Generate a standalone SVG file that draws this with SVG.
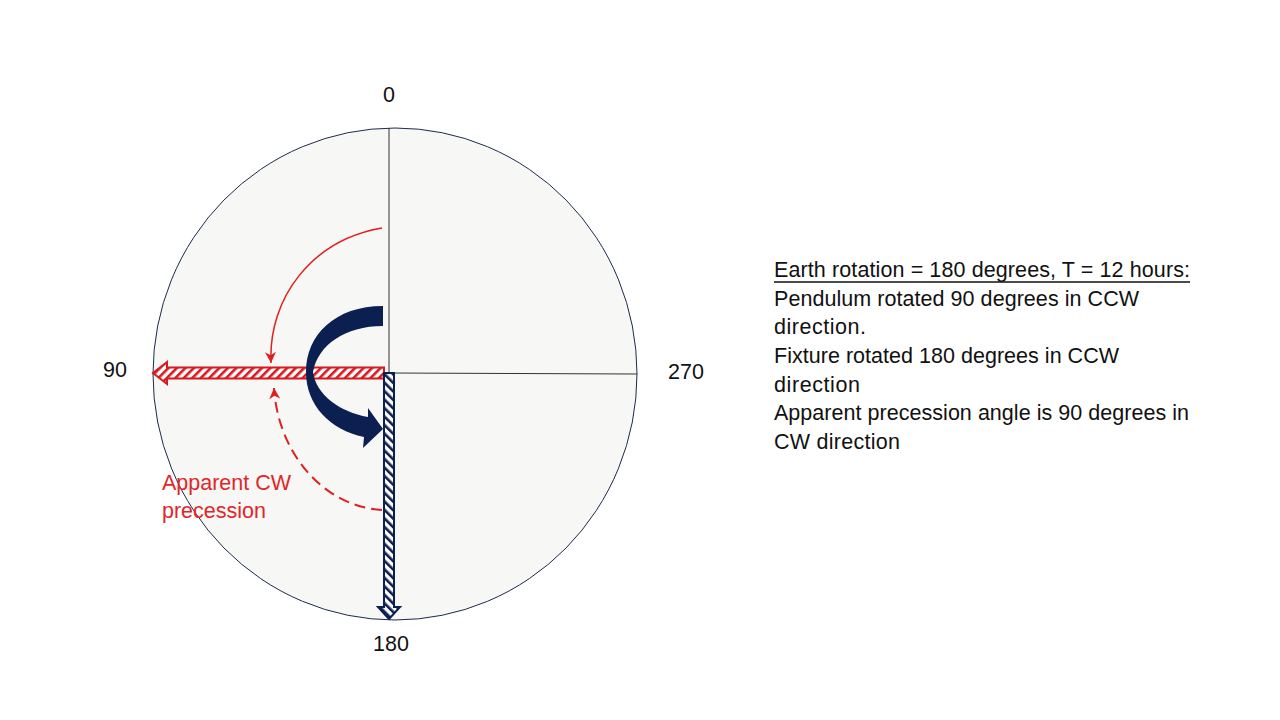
<svg xmlns="http://www.w3.org/2000/svg" width="1280" height="720" viewBox="0 0 1280 720">
<defs>
<pattern id="hatchRed" patternUnits="userSpaceOnUse" width="6" height="6" patternTransform="rotate(45)">
<rect width="6" height="6" fill="#ffffff"/>
<rect width="2.6" height="6" fill="#d7191f"/>
</pattern>
<pattern id="hatchBlue" patternUnits="userSpaceOnUse" width="6" height="6" patternTransform="rotate(-45)">
<rect width="6" height="6" fill="#ffffff"/>
<rect width="2.6" height="6" fill="#0b1f50"/>
</pattern>
<marker id="redHead" viewBox="0 0 10 10" refX="10" refY="5" markerWidth="12" markerHeight="11" orient="auto" markerUnits="userSpaceOnUse">
<path d="M0,0 L10,5 L0,10 L3,5 Z" fill="#e0201f"/>
</marker>
</defs>
<style>
.lbl{font-family:"Liberation Sans",Arial,sans-serif;font-size:21.5px;fill:#111111}
.red{font-family:"Liberation Sans",Arial,sans-serif;font-size:21.5px;fill:#e0262a}
.axis{stroke:#333333;stroke-width:1;fill:none}
</style>
<rect width="1280" height="720" fill="#ffffff"/>
<g id="dial">
<ellipse cx="395" cy="374" rx="242" ry="246" fill="#f7f7f5" stroke="#1d2a4a" stroke-width="1"/>
<line class="axis" x1="389" y1="128" x2="389" y2="373"/>
<line class="axis" x1="389" y1="373" x2="637" y2="374"/>
</g>
<g id="labels">
<text class="lbl" x="389" y="102" text-anchor="middle">0</text>
<text class="lbl" x="115" y="377" text-anchor="middle">90</text>
<text class="lbl" x="686" y="379" text-anchor="middle">270</text>
<text class="lbl" x="391" y="651" text-anchor="middle">180</text>
</g>
<g id="pendulum-arrow">
<path d="M384 367.5 L167 367.5 L167 362 L153 373 L167 384 L167 378.5 L384 378.5 Z" fill="url(#hatchRed)" stroke="#d7191f" stroke-width="2" stroke-linejoin="miter"/>
</g>
<g id="fixture-arrow">
<path d="M384 373 L384 607 L378 607 L389 619 L400 607 L394 607 L394 373 Z" fill="url(#hatchBlue)" stroke="#0b1f50" stroke-width="2"/>
</g>
<g id="rotation-arrow">
<path d="M383 306 L383 326 C345 326 318 345 313 372 C316 395 340 412 368 417 L368 408 L383 429 L363 448 L364 437 C330 430 306 405 306 372 C306 335 335 306 383 306 Z" fill="#0b1f50"/>
</g>
<g id="connectors">
<path d="M382 228 C312 240 268 298 271 363" fill="none" stroke="#e0201f" stroke-width="1.5" marker-end="url(#redHead)"/>
<path d="M382 510 C322 506 278 452 274 388" fill="none" stroke="#e0201f" stroke-width="2" stroke-dasharray="11 6" marker-end="url(#redHead)"/>
</g>
<g id="precession-label">
<text class="red" x="162" y="490">Apparent CW</text>
<text class="red" x="162" y="518">precession</text>
</g>
<g id="description">
<text class="lbl" x="774" y="277" textLength="416">Earth rotation = 180 degrees, T = 12 hours:</text>
<line x1="774" y1="282" x2="1190" y2="282" stroke="#111111" stroke-width="1.5"/>
<text class="lbl" x="774" y="306" textLength="365">Pendulum rotated 90 degrees in CCW</text>
<text class="lbl" x="774" y="334" textLength="92">direction.</text>
<text class="lbl" x="774" y="363" textLength="345">Fixture rotated 180 degrees in CCW</text>
<text class="lbl" x="774" y="392" textLength="86">direction</text>
<text class="lbl" x="774" y="420" textLength="415">Apparent precession angle is 90 degrees in</text>
<text class="lbl" x="774" y="449" textLength="126">CW direction</text>
</g>
</svg>
